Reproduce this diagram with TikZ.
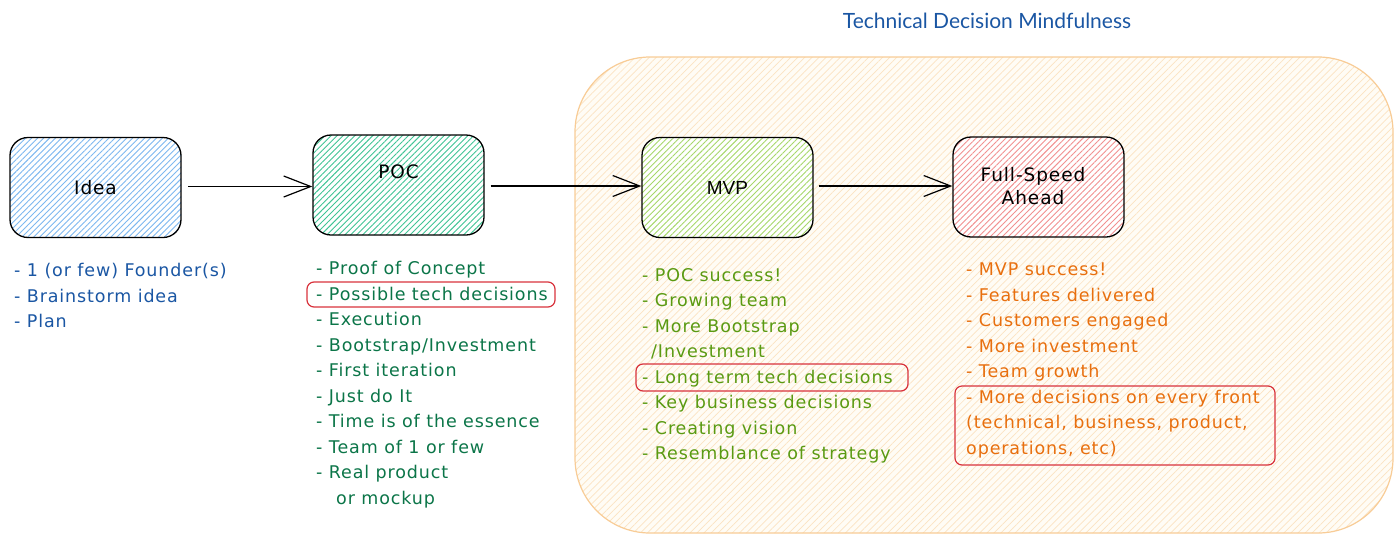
\documentclass[tikz,border=0pt]{standalone}
\usepackage{fontspec}
\setmainfont{DejaVu Sans}
\newfontfamily\listfont[LetterSpace=5]{DejaVu Sans}
\newfontfamily\titlefont{Lato}
\newfontfamily\mvpfont{Liberation Sans}
\usetikzlibrary{arrows.meta,patterns.meta}
\definecolor{ideafill}{HTML}{7DB8F0}
\definecolor{pocfill}{HTML}{3FC495}
\definecolor{mvpfill}{HTML}{A6D86A}
\definecolor{fullfill}{HTML}{F29090}
\definecolor{regionline}{HTML}{F8CC96}
\definecolor{regionhatch}{HTML}{FBE3C2}
\definecolor{regionbg}{HTML}{FFFCF5}
\definecolor{ideatext}{HTML}{1A56A3}
\definecolor{poctext}{HTML}{0B7548}
\definecolor{mvptext}{HTML}{5A9A12}
\definecolor{fulltext}{HTML}{E86F0E}
\definecolor{redline}{HTML}{D8323C}
\tikzset{
  stage/.style={draw=black, line width=1.3pt, rounded corners=18pt,
    minimum width=171pt, minimum height=100pt, inner sep=0pt,
    preaction={fill=white}},
  hatch/.style={pattern={Lines[angle=45,distance=4.2pt,line width=0.9pt]}, pattern color=#1},
  listtxt/.style={anchor=north west, align=left, inner sep=0pt,
    font=\listfont\fontsize{17.5}{25.5}\selectfont},
  flow/.style={line width=1.2pt, -{Straight Barb[length=27pt,width=21pt,line width=1.2pt]}},
  redbox/.style={draw=redline, line width=1.2pt, rounded corners=7pt},
  stagetxt/.style={font=\listfont\fontsize{18.5}{23}\selectfont, align=center, inner sep=0pt}
}
\begin{document}
\begin{tikzpicture}[x=1pt,y=-1pt]
\useasboundingbox (0,0) rectangle (1400,544);
% region
\draw[line width=1.2pt, draw=regionline, rounded corners=75pt,
  preaction={fill=regionbg},
  pattern={Lines[angle=45,distance=5pt,line width=0.7pt]}, pattern color=regionhatch]
  (575,57) rectangle (1393,533);
\node[text=ideatext, font=\titlefont\fontsize{21}{24}\selectfont] (title) at (987,21) {Technical Decision Mindfulness};
% stages
\node[stage, hatch=ideafill] (idea) at (95.5,187.5) {};
\node[stagetxt] (ideat) at (idea.center) {Idea};
\node[stage, hatch=pocfill] (poc) at (398.5,185) {};
\node[stagetxt] (poct) at (398.5,172) {POC};
\node[stage, hatch=mvpfill] (mvp) at (727.5,187.5) {};
\node[stagetxt, font=\mvpfont\fontsize{19}{23}\selectfont] (mvpt) at (mvp.center) {MVP};
\node[stage, hatch=fullfill] (full) at (1038.5,187) {};
\node[stagetxt] (fullt) at (1033,186) {Full-Speed\\Ahead};
% connectors
\draw[flow] (idea.east) ++(7,-1) coordinate (a1) -- (a1 -| poc.west);
\draw[flow] (poc.east) ++(6,1) coordinate (a2) -- (a2 -| mvp.west);
\draw[flow] (mvp.east) ++(5,-1.5) coordinate (a3) -- (a3 -| full.west);
% lists
\node[listtxt, text=ideatext] (idealist) at (14,263) {- 1 (or few) Founder(s)\\- Brainstorm idea\\- Plan};
\node[listtxt, text=poctext] (poclist) at (316,261) {- Proof of Concept\\- Possible tech decisions\\- Execution\\- Bootstrap/Investment\\- First iteration\\- Just do It\\- Time is of the essence\\- Team of 1 or few\\- Real product\\\hspace{20pt}or mockup};
\node[listtxt, text=mvptext] (mvplist) at (642,268) {- POC success!\\- Growing team\\- More Bootstrap\\\hspace{9pt}/Investment\\- Long term tech decisions\\- Key business decisions\\- Creating vision\\- Resemblance of strategy};
\node[listtxt, text=fulltext] (fulllist) at (966,263) {- MVP success!\\- Features delivered\\- Customers engaged\\- More investment\\- Team growth\\- More decisions on every front\\(technical, business, product,\\operations, etc)};
% highlights
\draw[redbox] (307,282) rectangle (555,307);
\draw[redbox] (636,364) rectangle (908,391);
\draw[redbox] (955,386) rectangle (1275,465);
\end{tikzpicture}
\end{document}
